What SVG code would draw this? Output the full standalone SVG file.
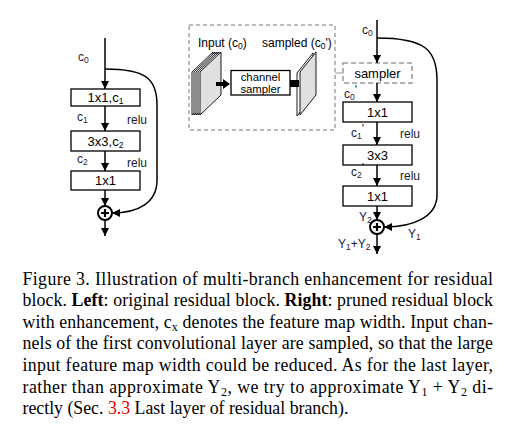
<svg xmlns="http://www.w3.org/2000/svg" width="511" height="434" viewBox="0 0 511 434">
<style>
.bx{fill:#fff;stroke:#000;stroke-width:1.3}
.ln{fill:none;stroke:#000;stroke-width:1.5}
.t{font-family:"Liberation Sans",Arial,sans-serif;font-size:12px;fill:#1a1a33}
.tc{font-family:"Liberation Sans",Arial,sans-serif;font-size:13px;fill:#000;text-anchor:middle}
.s{font-size:8.5px}
.cap{font-family:"Liberation Serif","Times New Roman",serif;font-size:17.8px;fill:#000}
.cs{font-size:12px}
.pl{fill:#fff;stroke:#000;stroke-width:0.9}
.plg{fill:#e0e0e0;stroke:#000;stroke-width:0.9}
.sum{fill:#fff;stroke:#000;stroke-width:2}
</style>
<defs>
<marker id="ah" viewBox="0 0 10 10" refX="10" refY="5" markerWidth="8" markerHeight="8" markerUnits="userSpaceOnUse" orient="auto">
<path d="M0,0 L10,5 L0,10 z" fill="#000"/>
</marker>
</defs>

<!-- Left block -->
<g id="left-box1"><rect class="bx" x="71" y="89" width="69" height="17"/><text class="tc" x="105.5" y="102">1x1,c<tspan class="s" dy="2">1</tspan></text></g>
<g id="left-box2"><rect class="bx" x="71" y="131" width="69" height="20"/><text class="tc" x="105.5" y="145.5">3x3,c<tspan class="s" dy="2">2</tspan></text></g>
<g id="left-box3"><rect class="bx" x="71" y="171" width="69" height="19"/><text class="tc" x="105.5" y="185">1x1</text></g>
<g id="left-sum"><circle class="sum" cx="105" cy="213" r="7"/><path d="M101,213 H109 M105,209 V217" stroke="#000" stroke-width="2.2"/></g>
<g id="left-labels">
<text class="t" x="78" y="61">c<tspan class="s" dy="2">0</tspan></text>
<text class="t" x="77" y="120.5">c<tspan class="s" dy="2">1</tspan></text>
<text class="t" x="127" y="124">relu</text>
<text class="t" x="77" y="163">c<tspan class="s" dy="2">2</tspan></text>
<text class="t" x="127" y="167">relu</text>
</g>

<!-- Inset -->
<g id="inset">
<rect x="189" y="25" width="146" height="105" fill="none" stroke="#777" stroke-width="1" stroke-dasharray="4,3"/>
<text class="t" x="198" y="47" style="fill:#000">Input (c<tspan class="s" dy="2">0</tspan><tspan dy="-2">)</tspan></text>
<text class="t" x="262" y="47" style="fill:#000">sampled (c<tspan class="s" dy="2">0</tspan><tspan dy="-2">')</tspan></text>
<g id="input-stack">
<polygon class="pl" points="192,72 213,52 213,95 192,115"/>
<polygon class="pl" points="194,72 215,52 215,95 194,115"/>
<polygon class="pl" points="196,72 217,52 217,95 196,115"/>
<polygon class="pl" points="198,72 219,52 219,95 198,115"/>
<polygon class="plg" points="200,72 221,52 221,95 200,115"/>
</g>
<g id="sampled-stack">
<polygon class="pl" points="297,73 313,53 313,96 297,116"/>
<polygon class="plg" points="300,72 316,52 316,95 300,115"/>
</g>
<g id="channel-sampler"><rect class="bx" x="231" y="70.5" width="59" height="24.5"/><text class="tc" x="260.5" y="80.5" style="font-size:11.3px">channel</text><text class="tc" x="260.5" y="93" style="font-size:11.3px">sampler</text></g>
<path d="M216,82 H223 V79 L230,84 L223,89 V86 H216 z" fill="#000"/>
<rect x="290" y="80" width="9" height="7" fill="#000"/>
</g>

<!-- Right block -->
<g id="right-sampler"><rect x="343" y="63" width="69" height="20" fill="#fff" stroke="#999" stroke-width="1.5" stroke-dasharray="5,3"/><text class="tc" x="377.5" y="77.5">sampler</text></g>
<g id="right-box1"><rect class="bx" x="343" y="102" width="69" height="20"/><text class="tc" x="377.5" y="116.5">1x1</text></g>
<g id="right-box2"><rect class="bx" x="343" y="145" width="69" height="20"/><text class="tc" x="377.5" y="159.5">3x3</text></g>
<g id="right-box3"><rect class="bx" x="343" y="186" width="69" height="20"/><text class="tc" x="377.5" y="200.5">1x1</text></g>
<g id="right-sum"><circle class="sum" cx="377" cy="227" r="7"/><path d="M373,227 H381 M377,223 V231" stroke="#000" stroke-width="2.2"/></g>
<g id="right-labels">
<text class="t" x="362" y="34">c<tspan class="s" dy="2">0</tspan></text>
<text class="t" x="344" y="98">c<tspan class="s" dy="2">0</tspan><tspan dy="-6">'</tspan></text>
<text class="t" x="351" y="137">c<tspan class="s" dy="2">1</tspan><tspan dy="-6">'</tspan></text>
<text class="t" x="400" y="138">relu</text>
<text class="t" x="351" y="176">c<tspan class="s" dy="2">2</tspan><tspan dy="-6">'</tspan></text>
<text class="t" x="400" y="180">relu</text>
<text class="t" x="359" y="221">Y<tspan class="s" dy="2">2</tspan></text>
<text class="t" x="408" y="238">Y<tspan class="s" dy="2">1</tspan></text>
<text class="t" x="338" y="248">Y<tspan class="s" dy="2">1</tspan><tspan dy="-2">+Y</tspan><tspan class="s" dy="2">2</tspan></text>
</g>

<!-- Connectors -->
<g id="connectors">
<line class="ln" x1="105" y1="38" x2="105" y2="89" marker-end="url(#ah)"/>
<line class="ln" x1="105" y1="106" x2="105" y2="131" marker-end="url(#ah)"/>
<line class="ln" x1="105" y1="151" x2="105" y2="171" marker-end="url(#ah)"/>
<line class="ln" x1="105" y1="190" x2="105" y2="206" marker-end="url(#ah)"/>
<line class="ln" x1="105" y1="220" x2="105" y2="236" marker-end="url(#ah)"/>
<path class="ln" d="M105,69 C145,69 157,78 157,105 L157,180 C157,203 138,213 112,213" marker-end="url(#ah)"/>

<line class="ln" x1="377" y1="20" x2="377" y2="63" marker-end="url(#ah)"/>
<line class="ln" x1="377" y1="83" x2="377" y2="102" marker-end="url(#ah)"/>
<line class="ln" x1="377" y1="122" x2="377" y2="145" marker-end="url(#ah)"/>
<line class="ln" x1="377" y1="165" x2="377" y2="186" marker-end="url(#ah)"/>
<line class="ln" x1="377" y1="206" x2="377" y2="220" marker-end="url(#ah)"/>
<line class="ln" x1="377" y1="234" x2="377" y2="254" marker-end="url(#ah)"/>
<path class="ln" d="M377,38 C425,38 437,50 437,80 L437,195 C437,216 415,227 384,227" marker-end="url(#ah)"/>
<line x1="335" y1="73" x2="343" y2="73" stroke="#999" stroke-width="1"/>
</g>

<!-- Caption -->
<g id="caption">
<text class="cap" x="22.5" y="284.5" textLength="470.5" lengthAdjust="spacing">Figure 3. Illustration of multi-branch enhancement for residual</text>
<text class="cap" x="22.5" y="306.1" textLength="470.5" lengthAdjust="spacing">block. <tspan font-weight="bold">Left</tspan>: original residual block. <tspan font-weight="bold">Right</tspan>: pruned residual block</text>
<text class="cap" x="22.5" y="327.7" textLength="470.5" lengthAdjust="spacing">with enhancement, c<tspan class="cs" dy="3">x</tspan><tspan dy="-3"> denotes the feature map width. Input chan-</tspan></text>
<text class="cap" x="22.5" y="349.3" textLength="470.5" lengthAdjust="spacing">nels of the first convolutional layer are sampled, so that the large</text>
<text class="cap" x="22.5" y="370.9" textLength="470.5" lengthAdjust="spacing">input feature map width could be reduced.  As for the last layer,</text>
<text class="cap" x="22.5" y="392.5" textLength="470.5" lengthAdjust="spacing">rather than approximate Y<tspan class="cs" dy="3">2</tspan><tspan dy="-3">, we try to approximate Y</tspan><tspan class="cs" dy="3">1</tspan><tspan dy="-3"> + Y</tspan><tspan class="cs" dy="3">2</tspan><tspan dy="-3"> di-</tspan></text>
<text class="cap" x="22.5" y="414.1">rectly (Sec. <tspan fill="#e00000">3.3</tspan> Last layer of residual branch).</text>
</g>
</svg>
